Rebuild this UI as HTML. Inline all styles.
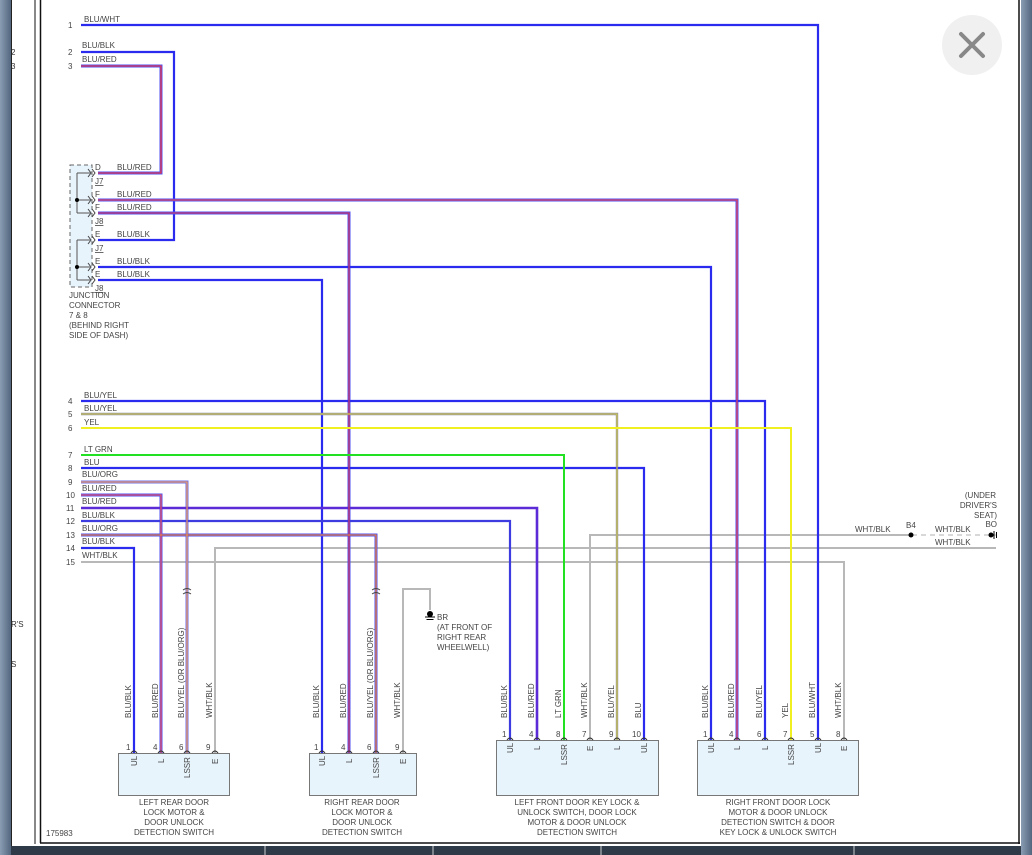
<!DOCTYPE html>
<html><head><meta charset="utf-8"><style>
html,body{margin:0;padding:0;background:#fff;}
svg{display:block;font-family:"Liberation Sans",sans-serif;}
text{fill:#444;font-size:8px;}
</style></head><body>
<svg width="1032" height="855" viewBox="0 0 1032 855" xmlns="http://www.w3.org/2000/svg">
<defs>
<linearGradient id="sg" x1="0" x2="1"><stop offset="0" stop-color="#8a9db3"/><stop offset="1" stop-color="#52667e"/></linearGradient>
</defs>
<rect width="1032" height="855" fill="#fff"/>
<rect x="0" y="0" width="11" height="855" fill="url(#sg)"/>
<line x1="11.5" y1="0" x2="11.5" y2="855" stroke="#222" stroke-width="1"/>
<line x1="35" y1="0" x2="35" y2="844" stroke="#111" stroke-width="1"/>
<line x1="40.5" y1="0" x2="40.5" y2="843" stroke="#111" stroke-width="1.5"/>
<rect x="1021" y="0" width="11" height="855" fill="url(#sg)"/>
<line x1="1019" y1="0" x2="1019" y2="844" stroke="#111" stroke-width="1.5"/>
<line x1="40" y1="843" x2="1020" y2="843" stroke="#111" stroke-width="1.5"/>
<rect x="11" y="846" width="1010" height="9" fill="#2e3a48"/>
<g stroke="#ccc" stroke-width="1"><line x1="265" y1="846" x2="265" y2="855"/><line x1="433" y1="846" x2="433" y2="855"/><line x1="601" y1="846" x2="601" y2="855"/><line x1="854" y1="846" x2="854" y2="855"/></g>
<g font-size="8"><text x="11" y="55" style="fill:#333">2</text><text x="11" y="69" style="fill:#333">3</text><text x="11" y="627" style="fill:#333">R'S</text><text x="11" y="667" style="fill:#333">S</text></g>

<circle cx="972" cy="45" r="30" fill="#f0f0f0"/>
<path d="M961 34 L983 56 M983 34 L961 56" stroke="#888" stroke-width="4" stroke-linecap="round"/>

<!-- junction connector -->
<rect x="70" y="165" width="22" height="122" fill="#e8f4fc" stroke="#666" stroke-dasharray="4,3"/>
<g stroke="#555" fill="none" stroke-width="1">
<path d="M77 173 H90 M77 173 V213 M77 200 H90 M77 213 H90"/>
<path d="M77 240 H90 M77 240 V280 M77 267 H90 M77 280 H90"/>
</g>
<circle cx="77" cy="200" r="2" fill="#000"/><circle cx="77" cy="267" r="2" fill="#000"/>
<g fill="none" stroke="#444" stroke-width="1">
<path d="M88 169 l3 4 l-3 4 M92 169 l3 4 l-3 4"/><path d="M88 196 l3 4 l-3 4 M92 196 l3 4 l-3 4"/><path d="M88 209 l3 4 l-3 4 M92 209 l3 4 l-3 4"/>
<path d="M88 236 l3 4 l-3 4 M92 236 l3 4 l-3 4"/><path d="M88 263 l3 4 l-3 4 M92 263 l3 4 l-3 4"/><path d="M88 276 l3 4 l-3 4 M92 276 l3 4 l-3 4"/>
</g>
<g font-size="8">
<text x="95" y="170">D</text><text x="95" y="184" text-decoration="underline">J7</text>
<text x="95" y="197">F</text><text x="95" y="210">F</text><text x="95" y="224" text-decoration="underline">J8</text>
<text x="95" y="237">E</text><text x="95" y="251" text-decoration="underline">J7</text>
<text x="95" y="264">E</text><text x="95" y="277">E</text><text x="95" y="291" text-decoration="underline">J8</text>
<text x="117" y="170">BLU/RED</text><text x="117" y="197">BLU/RED</text><text x="117" y="210">BLU/RED</text>
<text x="117" y="237">BLU/BLK</text><text x="117" y="264">BLU/BLK</text><text x="117" y="277">BLU/BLK</text>
<text x="69" y="298">JUNCTION</text><text x="69" y="308">CONNECTOR</text><text x="69" y="318">7 &amp; 8</text><text x="69" y="328">(BEHIND RIGHT</text><text x="69" y="338">SIDE OF DASH)</text>
</g>

<!-- gray wires -->
<g fill="none" stroke="#b8b8b8" stroke-width="2">
<path d="M81 562 H844 V740"/>
<path d="M215 753 V548 H996"/>
<path d="M590 740 V535 H910"/>
<path d="M403 753 V589 H430 V610"/>
</g>
<line x1="912" y1="535" x2="990" y2="535" stroke="#ccc" stroke-width="1.5" stroke-dasharray="5,4"/>
<line x1="992" y1="535" x2="996" y2="535" stroke="#ccc" stroke-width="1.5"/>
<circle cx="911" cy="535" r="2.5" fill="#000"/>
<circle cx="991" cy="535" r="2.5" fill="#000"/>
<path d="M994 531 V539 M996.5 532 V538" stroke="#000" stroke-width="1"/>
<circle cx="430" cy="614" r="3" fill="#000"/><path d="M425 617 H435 M426.5 619.5 H433.5" stroke="#000" stroke-width="1"/>

<!-- blue base wires -->
<g fill="none" stroke="#2b2bf0" stroke-width="2.2">
<path d="M81 25 H818 V740"/>
<path d="M81 52 H174 V240 H98"/>
<path d="M81 66 H161 V173 H98" stroke="#5050f0" stroke-width="3"/>
<path d="M98 200 H737 V740" stroke="#5050f0" stroke-width="3"/>
<path d="M98 213 H349 V753" stroke="#5050f0" stroke-width="3"/>
<path d="M98 267 H711 V740"/>
<path d="M98 280 H322 V753"/>
<path d="M81 401 H765 V740"/>
<path d="M81 414 H617 V740" stroke="#8a8aa8" stroke-width="2.4"/>
<path d="M81 468 H644 V740"/>
<path d="M81 482 H187 V753" stroke="#7070e8" stroke-width="3"/>
<path d="M81 495 H161 V753" stroke="#5050f0" stroke-width="3"/>
<path d="M81 508 H537 V740" stroke="#5b2bd8" stroke-width="2.6"/>
<path d="M81 521 H510 V740" stroke="#3c3ce0"/>
<path d="M81 535 H376 V753" stroke="#5050f0" stroke-width="3"/>
<path d="M81 548 H134 V753"/>
</g>
<!-- second colors -->
<g fill="none" stroke-width="1.1">
<path d="M81 66 H161 V173 H98" stroke="#ff3030"/>
<path d="M98 200 H737 V740" stroke="#ff4040"/>
<path d="M98 213 H349 V753" stroke="#e03050"/>
<path d="M81 414 H617 V740" stroke="#d8d040"/>
<path d="M81 482 H187 V753" stroke="#ffa050"/>
<path d="M81 495 H161 V753" stroke="#ff5050"/>
<path d="M81 535 H376 V753" stroke="#ff8820"/>
</g>
<path d="M81 428 H791 V740" fill="none" stroke="#f0f020" stroke-width="2"/>
<path d="M81 455 H564 V740" fill="none" stroke="#22e022" stroke-width="2"/>
<!-- inline connectors -->
<g fill="none" stroke="#444" stroke-width="1">
<path d="M183 590 q4 -3 8 0 M183 594 q4 -3 8 0"/>
<path d="M372 590 q4 -3 8 0 M372 594 q4 -3 8 0"/>
</g>

<!-- row labels -->
<g font-size="8">
<text x="68" y="28">1</text><text x="84" y="22">BLU/WHT</text>
<text x="68" y="55">2</text><text x="82" y="48">BLU/BLK</text>
<text x="68" y="69">3</text><text x="82" y="62">BLU/RED</text>
<text x="68" y="404">4</text><text x="84" y="398">BLU/YEL</text>
<text x="68" y="417">5</text><text x="84" y="411">BLU/YEL</text>
<text x="68" y="431">6</text><text x="84" y="425">YEL</text>
<text x="68" y="458">7</text><text x="84" y="452">LT GRN</text>
<text x="68" y="471">8</text><text x="84" y="465">BLU</text>
<text x="68" y="485">9</text><text x="82" y="477">BLU/ORG</text>
<text x="66" y="498">10</text><text x="82" y="491">BLU/RED</text>
<text x="66" y="511">11</text><text x="82" y="504">BLU/RED</text>
<text x="66" y="524">12</text><text x="82" y="518">BLU/BLK</text>
<text x="66" y="538">13</text><text x="82" y="531">BLU/ORG</text>
<text x="66" y="551">14</text><text x="82" y="544">BLU/BLK</text>
<text x="66" y="565">15</text><text x="82" y="558">WHT/BLK</text>
<text x="855" y="532">WHT/BLK</text><text x="906" y="528">B4</text>
<text x="935" y="532">WHT/BLK</text><text x="935" y="545">WHT/BLK</text>
<text x="996" y="498" text-anchor="end">(UNDER</text><text x="997" y="508" text-anchor="end">DRIVER'S</text><text x="997" y="518" text-anchor="end">SEAT)</text><text x="997" y="527" text-anchor="end">BO</text>
<text x="437" y="620">BR</text><text x="437" y="630">(AT FRONT OF</text><text x="437" y="640">RIGHT REAR</text><text x="437" y="650">WHEELWELL)</text>
<text x="46" y="836" font-size="7">175983</text>
</g>

<!-- boxes -->
<g fill="#e8f4fc" stroke="#777" stroke-width="1">
<rect x="118.5" y="753.5" width="111" height="42"/>
<rect x="309.5" y="753.5" width="107" height="42"/>
<rect x="496.5" y="740.5" width="162" height="55"/>
<rect x="697.5" y="740.5" width="161" height="55"/>
</g>
<g fill="none" stroke="#333" stroke-width="1">
<path d="M131 753 q3 -4 6 0 M158 753 q3 -4 6 0 M184 753 q3 -4 6 0 M212 753 q3 -4 6 0"/>
<path d="M319 753 q3 -4 6 0 M346 753 q3 -4 6 0 M373 753 q3 -4 6 0 M400 753 q3 -4 6 0"/>
<path d="M507 740 q3 -4 6 0 M534 740 q3 -4 6 0 M561 740 q3 -4 6 0 M587 740 q3 -4 6 0 M614 740 q3 -4 6 0 M641 740 q3 -4 6 0"/>
<path d="M708 740 q3 -4 6 0 M734 740 q3 -4 6 0 M762 740 q3 -4 6 0 M788 740 q3 -4 6 0 M815 740 q3 -4 6 0 M841 740 q3 -4 6 0"/>
</g>
<g font-size="7.5">
<text x="126" y="750">1</text><text x="153" y="750">4</text><text x="179" y="750">6</text><text x="206" y="750">9</text>
<text x="314" y="750">1</text><text x="341" y="750">4</text><text x="367" y="750">6</text><text x="395" y="750">9</text>
<text x="502" y="737">1</text><text x="529" y="737">4</text><text x="556" y="737">8</text><text x="582" y="737">7</text><text x="609" y="737">9</text><text x="632" y="737">10</text>
<text x="703" y="737">1</text><text x="729" y="737">4</text><text x="757" y="737">6</text><text x="783" y="737">7</text><text x="810" y="737">5</text><text x="836" y="737">8</text>
</g>
<!-- vertical wire labels -->
<g font-size="7.5">
<text transform="translate(131,718) rotate(-90)">BLU/BLK</text>
<text transform="translate(158,718) rotate(-90)">BLU/RED</text>
<text transform="translate(184,718) rotate(-90)">BLU/YEL (OR BLU/ORG)</text>
<text transform="translate(212,718) rotate(-90)">WHT/BLK</text>
<text transform="translate(319,718) rotate(-90)">BLU/BLK</text>
<text transform="translate(346,718) rotate(-90)">BLU/RED</text>
<text transform="translate(373,718) rotate(-90)">BLU/YEL (OR BLU/ORG)</text>
<text transform="translate(400,718) rotate(-90)">WHT/BLK</text>
<text transform="translate(507,718) rotate(-90)">BLU/BLK</text>
<text transform="translate(534,718) rotate(-90)">BLU/RED</text>
<text transform="translate(561,718) rotate(-90)">LT GRN</text>
<text transform="translate(587,718) rotate(-90)">WHT/BLK</text>
<text transform="translate(614,718) rotate(-90)">BLU/YEL</text>
<text transform="translate(641,718) rotate(-90)">BLU</text>
<text transform="translate(708,718) rotate(-90)">BLU/BLK</text>
<text transform="translate(734,718) rotate(-90)">BLU/RED</text>
<text transform="translate(762,718) rotate(-90)">BLU/YEL</text>
<text transform="translate(788,718) rotate(-90)">YEL</text>
<text transform="translate(815,718) rotate(-90)">BLU/WHT</text>
<text transform="translate(841,718) rotate(-90)">WHT/BLK</text>
</g>
<!-- pin names -->
<g font-size="7.5">
<text transform="translate(137,766) rotate(-90)">UL</text><text transform="translate(164,763) rotate(-90)">L</text><text transform="translate(190,778) rotate(-90)">LSSR</text><text transform="translate(218,764) rotate(-90)">E</text>
<text transform="translate(325,766) rotate(-90)">UL</text><text transform="translate(352,763) rotate(-90)">L</text><text transform="translate(379,778) rotate(-90)">LSSR</text><text transform="translate(406,764) rotate(-90)">E</text>
<text transform="translate(513,753) rotate(-90)">UL</text><text transform="translate(540,750) rotate(-90)">L</text><text transform="translate(567,765) rotate(-90)">LSSR</text><text transform="translate(593,751) rotate(-90)">E</text><text transform="translate(620,750) rotate(-90)">L</text><text transform="translate(647,753) rotate(-90)">UL</text>
<text transform="translate(714,753) rotate(-90)">UL</text><text transform="translate(740,750) rotate(-90)">L</text><text transform="translate(768,750) rotate(-90)">L</text><text transform="translate(794,765) rotate(-90)">LSSR</text><text transform="translate(821,753) rotate(-90)">UL</text><text transform="translate(847,751) rotate(-90)">E</text>
</g>
<!-- box captions -->
<g font-size="7.5" text-anchor="middle">
<text x="174" y="805">LEFT REAR DOOR</text><text x="174" y="815">LOCK MOTOR &amp;</text><text x="174" y="825">DOOR UNLOCK</text><text x="174" y="835">DETECTION SWITCH</text>
<text x="362" y="805">RIGHT REAR DOOR</text><text x="362" y="815">LOCK MOTOR &amp;</text><text x="362" y="825">DOOR UNLOCK</text><text x="362" y="835">DETECTION SWITCH</text>
<text x="577" y="805">LEFT FRONT DOOR KEY LOCK &amp;</text><text x="577" y="815">UNLOCK SWITCH, DOOR LOCK</text><text x="577" y="825">MOTOR &amp; DOOR UNLOCK</text><text x="577" y="835">DETECTION SWITCH</text>
<text x="778" y="805">RIGHT FRONT DOOR LOCK</text><text x="778" y="815">MOTOR &amp; DOOR UNLOCK</text><text x="778" y="825">DETECTION SWITCH &amp; DOOR</text><text x="778" y="835">KEY LOCK &amp; UNLOCK SWITCH</text>
</g>
</svg>
</body></html>
